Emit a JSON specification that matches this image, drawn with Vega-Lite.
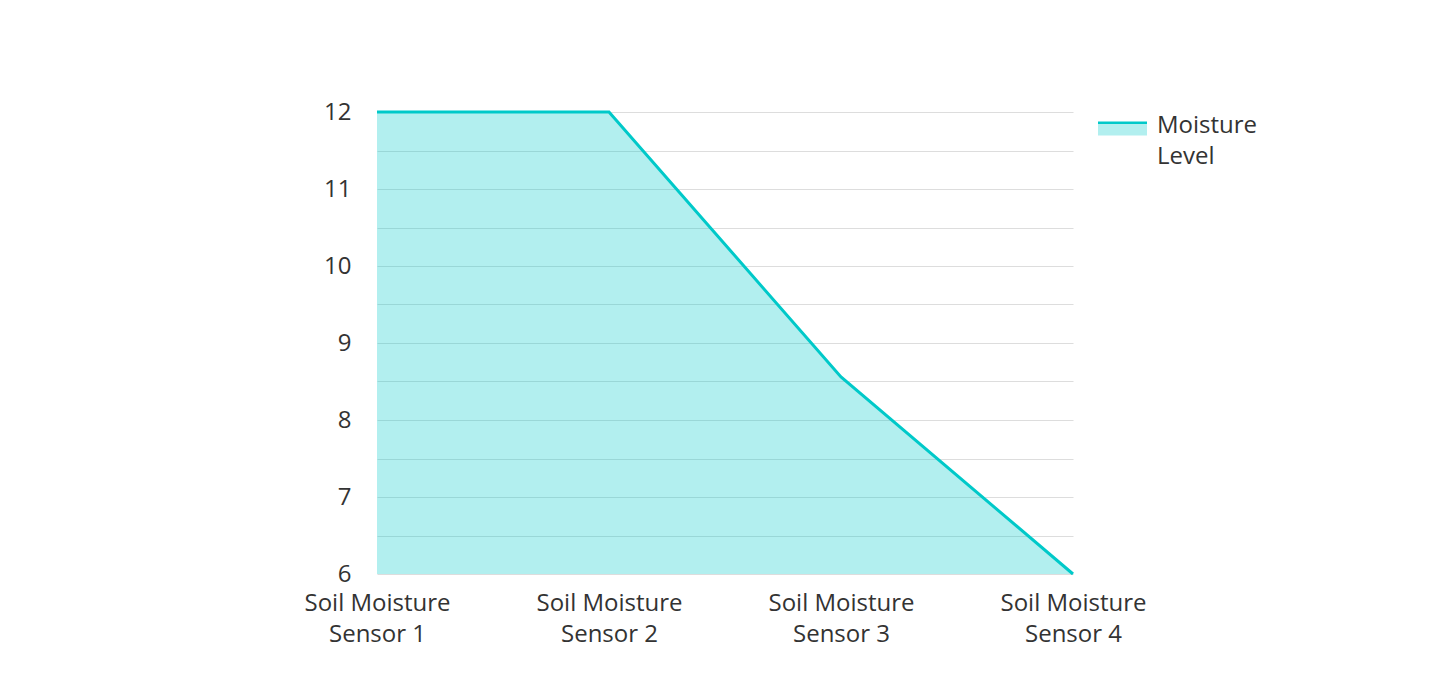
{
  "$schema": "https://vega.github.io/schema/vega-lite/v6.json",
  "width": 696,
  "height": 462,
  "autosize": {"type": "none"},
  "padding": {"left": 377, "top": 112, "right": 372, "bottom": 115},
  "background": "white",
  "config": {"font": "Open Sans", "view": {"stroke": null}},
  "data": {
    "values": [
      {"sensor": "Soil Moisture Sensor 1", "moisture": 12, "series": "Moisture Level"},
      {"sensor": "Soil Moisture Sensor 2", "moisture": 12, "series": "Moisture Level"},
      {"sensor": "Soil Moisture Sensor 3", "moisture": 8.56, "series": "Moisture Level"},
      {"sensor": "Soil Moisture Sensor 4", "moisture": 6, "series": "Moisture Level"}
    ]
  },
  "encoding": {
    "x": {
      "field": "sensor",
      "type": "ordinal",
      "sort": null,
      "scale": {"type": "point", "padding": 0},
      "axis": {
        "title": null,
        "labelAngle": 0,
        "labelExpr": "[slice(datum.label, 0, 13), slice(datum.label, 14)]",
        "labelFontSize": 24,
        "labelLineHeight": 31,
        "labelColor": "#333333",
        "labelPadding": 17,
        "ticks": false,
        "domain": false,
        "grid": false
      }
    },
    "y": {
      "field": "moisture",
      "type": "quantitative",
      "scale": {"domain": [6, 12], "nice": false, "zero": false},
      "axis": {
        "title": null,
        "values": [6, 6.5, 7, 7.5, 8, 8.5, 9, 9.5, 10, 10.5, 11, 11.5, 12],
        "labelExpr": "datum.value % 1 === 0 ? format(datum.value, 'd') : ''",
        "labelFontSize": 24,
        "labelColor": "#333333",
        "labelPadding": 26,
        "ticks": false,
        "domain": false,
        "grid": true,
        "gridOpacity": 1,
        "encode": {
          "grid": {"update": {"stroke": {"signal": "datum.value % 1 === 0 ? '#c2c2c2' : '#e6e6e6'"}, "strokeOpacity": {"value": 1}}}
        }
      }
    }
  },
  "layer": [
    {
      "mark": {"type": "area", "color": "#00c9c9", "opacity": 0.3},
      "encoding": {"y2": {"datum": 6}}
    },
    {
      "mark": {"type": "line", "strokeWidth": 3},
      "encoding": {
        "color": {
          "field": "series",
          "type": "nominal",
          "scale": {"range": ["#00c9c9"]},
          "legend": {
            "title": null,
            "orient": "none",
            "legendX": 721,
            "legendY": -8,
            "symbolType": "M-1,-0.29H1V0.29H-1Z",
            "symbolSize": 2401,
            "symbolStrokeWidth": 0,
            "labelFontSize": 24,
            "labelColor": "#333333",
            "labelOffset": 10,
            "labelBaseline": "top",
            "labelExpr": "['Moisture', 'Level']",
            "encode": {
              "symbols": {
                "update": {
                  "fill": {"value": {"gradient": "linear", "x1": 0, "y1": 0, "x2": 0, "y2": 1, "stops": [
                    {"offset": 0, "color": "#00c9c9"},
                    {"offset": 0.21, "color": "#00c9c9"},
                    {"offset": 0.21, "color": "#b2efef"},
                    {"offset": 1, "color": "#b2efef"}
                  ]}},
                  "stroke": {"value": "transparent"},
                  "strokeWidth": {"value": 0},
                  "opacity": {"value": 1}
                }
              },
              "labels": {"update": {"lineHeight": {"value": 31}, "dy": {"value": -15}}}
            }
          }
        }
      }
    }
  ]
}
